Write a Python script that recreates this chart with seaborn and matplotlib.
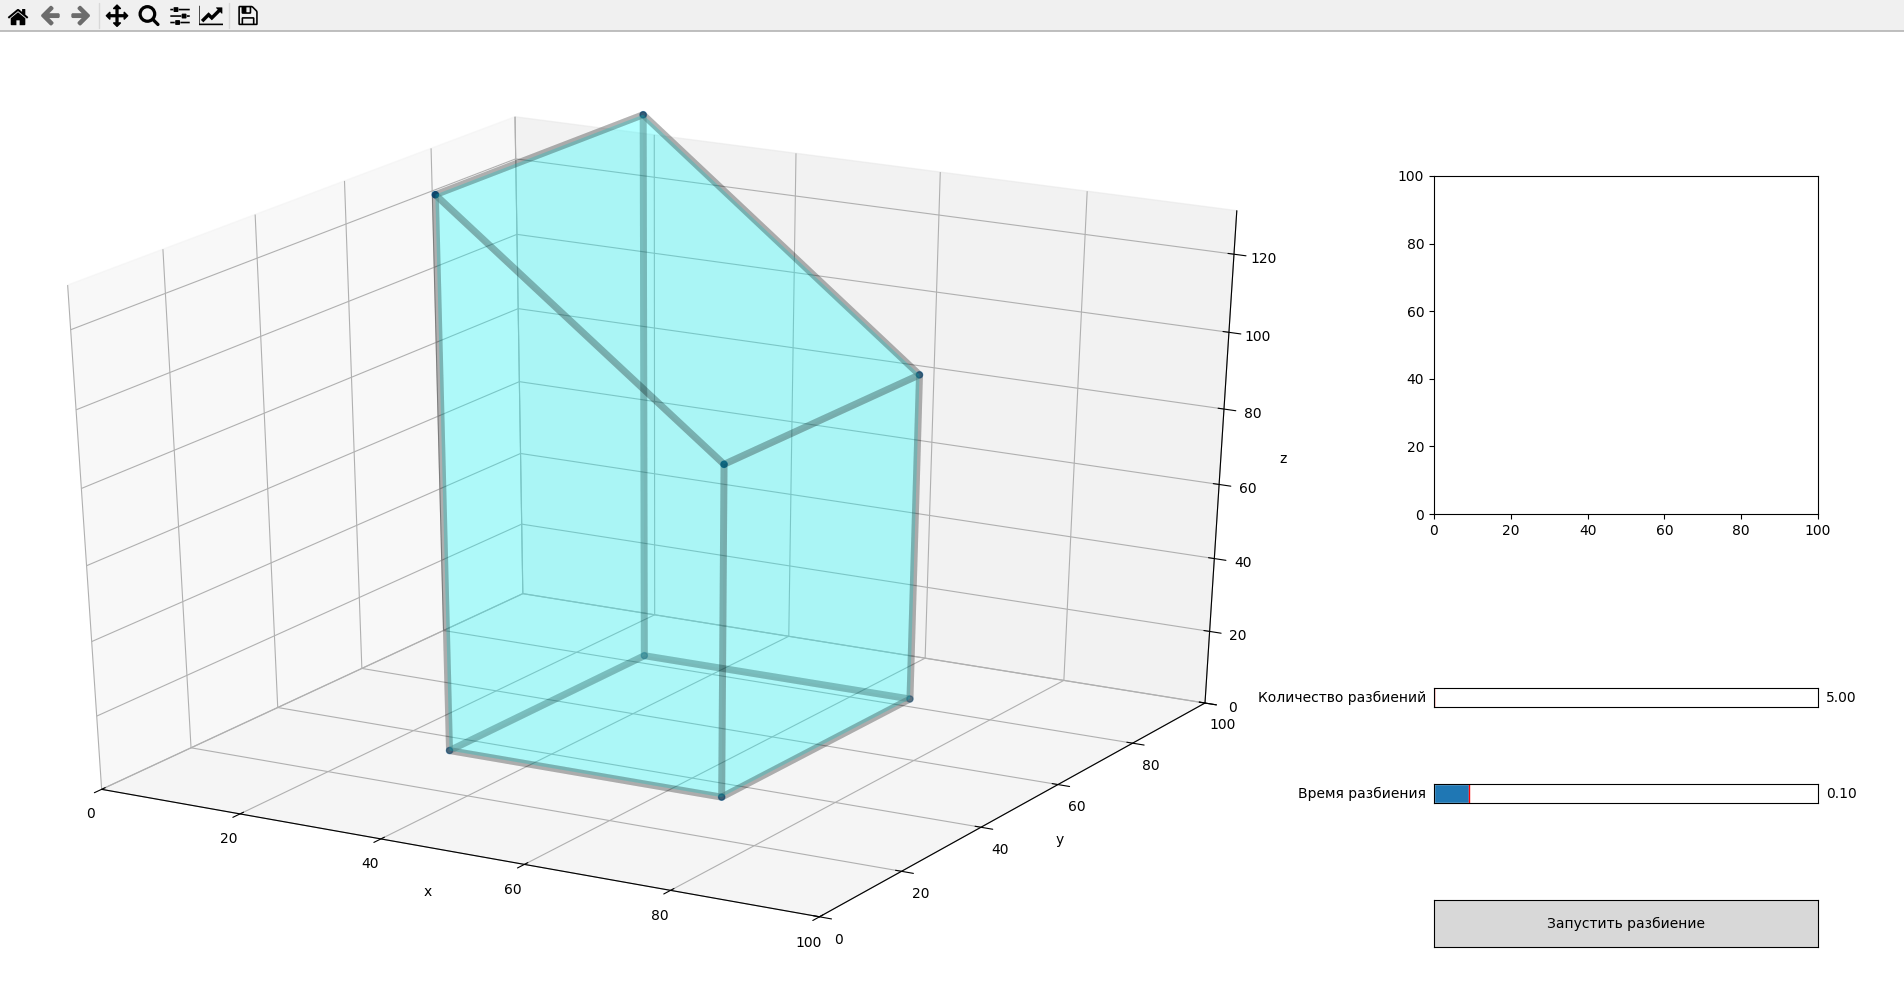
import os
import matplotlib
matplotlib.use("Agg")
import matplotlib.pyplot as plt
import matplotlib.image as mpimg
import numpy as np
import seaborn as sns
from mpl_toolkits.mplot3d.art3d import Poly3DCollection

W, H = 1904, 988

# vertices of the solid
xs = [28.3, 67, 67, 28.3, 28.3, 67, 67, 28.3]
ys = [35, 35, 83, 83, 35, 35, 83, 83]
zs = [0, 0, 0, 0, 145, 88, 88, 145]
face_ids = [
    [0, 1, 2, 3],
    [4, 5, 6, 7],
    [0, 1, 5, 4],
    [1, 2, 6, 5],
    [2, 3, 7, 6],
    [3, 0, 4, 7],
]
tick_values = [0, 20, 40, 60, 80, 100]
slider_labels = ["Количество разбиений", "Время разбиения"]
slider_values = [5.00, 0.10]
slider_mins = [5.00, 0.01]
slider_maxs = [100.00, 1.00]
button_label = "Запустить разбиение"

sns.set_theme(style="ticks", rc={"axes.grid": False, "text.color": "black",
                                 "axes.labelcolor": "black", "xtick.color": "black",
                                 "ytick.color": "black", "axes.edgecolor": "black",
                                 "axes.linewidth": 0.8, "xtick.major.width": 0.8,
                                 "ytick.major.width": 0.8, "xtick.major.size": 3.5,
                                 "ytick.major.size": 3.5})
plt.rcParams["font.family"] = "DejaVu Sans"
plt.rcParams["font.size"] = 10
plt.rcParams["axes.labelsize"] = 10
plt.rcParams["xtick.labelsize"] = 10
plt.rcParams["ytick.labelsize"] = 10


def px_rect(x0, y0, x1, y1):
    return [x0 / W, 1 - y1 / H, (x1 - x0) / W, (y1 - y0) / H]


fig = plt.figure(figsize=(W / 100, H / 100), dpi=100)

# toolbar strip
bar = fig.add_axes(px_rect(0, 0, W, 31), zorder=5)
bar.set_facecolor("#f0f0f0")
bar.set_xticks([])
bar.set_yticks([])
for s in ["top", "left", "right"]:
    bar.spines[s].set_visible(False)
bar.spines["bottom"].set_color("#b4b4b4")
bar.spines["bottom"].set_linewidth(1.2)
for sx in [99, 229]:
    bar.plot([sx, sx], [3, 28], color="#d8d8d8", lw=1)

icon_dir = os.path.join(matplotlib.get_data_path(), "images")
icons = [("home", 18, 1), ("back", 50, .55), ("forward", 81, .55), ("move", 117, 1),
         ("zoom_to_rect", 149, 1), ("subplots", 180, 1), ("qt4_editor_options", 211, 1),
         ("filesave", 248, 1)]
for name, cx, a in icons:
    img = mpimg.imread(os.path.join(icon_dir, name + ".png"))
    bar.imshow(img, extent=[cx - 12, cx + 12, 27.5, 3.5], alpha=a, aspect="auto",
               interpolation="bilinear", zorder=3)
bar.set_xlim(0, W)
bar.set_ylim(31, 0)

# 3d view, stretched to fill its rectangle like older mplot3d did
ax = fig.add_axes(px_rect(-106, 92, 1390, 938), projection="3d", zorder=0)
ax.apply_aspect = lambda position=None: ax._set_position(ax.get_position(original=True), "active")
ax.patch.set_visible(False)
ax.set_box_aspect((1, 1, 1.2))
ax.view_init(elev=28, azim=-60)
ax.set_xlim(0, 100)
ax.set_ylim(0, 100)
ax.set_zlim(0, 131)
ax.set_xticks(tick_values)
ax.set_yticks(tick_values)
ax.set_zticks([0, 20, 40, 60, 80, 100, 120])
ax.set_xlabel("x")
ax.set_ylabel("y")
ax.set_zlabel("z")
for axis in (ax.xaxis, ax.yaxis, ax.zaxis):
    axis._axinfo["grid"]["color"] = (0.69, 0.69, 0.69, 1)
    axis._axinfo["grid"]["linewidth"] = 0.8

pts = np.column_stack([xs, ys, zs])
faces = [pts[ids] for ids in face_ids]
ax.scatter(xs, ys, zs, color=sns.color_palette("tab10")[0])
ax.add_collection3d(Poly3DCollection(faces, facecolors=(0, 1, 1, 0.16),
                                     edgecolors=(0, 0, 0, 0.16), linewidths=5))

# small empty plot on the right
ax2 = fig.add_axes(px_rect(1434, 176, 1818, 514))
ax2.set_xlim(0, 100)
ax2.set_ylim(0, 100)
ax2.set_xticks(tick_values)
ax2.set_yticks(tick_values)
ax2.tick_params(length=3.5, width=0.8, labelsize=10)

# sliders
for label, val, vmin, vmax, y0, y1 in zip(slider_labels, slider_values, slider_mins,
                                          slider_maxs, [688, 784], [707, 803]):
    sl = fig.add_axes(px_rect(1434, y0, 1818, y1))
    sns.barplot(x=[val - vmin], y=[0], orient="h", color="#1f77b4", width=1,
                saturation=1, ax=sl)
    sl.axvline(val - vmin, color="red", lw=1)
    sl.set_xlim(0, vmax - vmin)
    sl.set_ylim(0.5, -0.5)
    sl.set_xticks([])
    sl.set_yticks([])
    sl.set_xlabel("")
    sl.set_ylabel("")
    sl.text(-0.02, 0.5, label, transform=sl.transAxes, ha="right", va="center", fontsize=10)
    sl.text(1.02, 0.5, f"{val:.2f}", transform=sl.transAxes, ha="left", va="center", fontsize=10)

# button
btn = fig.add_axes(px_rect(1434, 900, 1818, 947))
btn.set_facecolor("#d8d8d8")
btn.set_xticks([])
btn.set_yticks([])
btn.text(0.5, 0.5, button_label, transform=btn.transAxes, ha="center", va="center", fontsize=10)

fig.savefig("out.png", dpi=100)
